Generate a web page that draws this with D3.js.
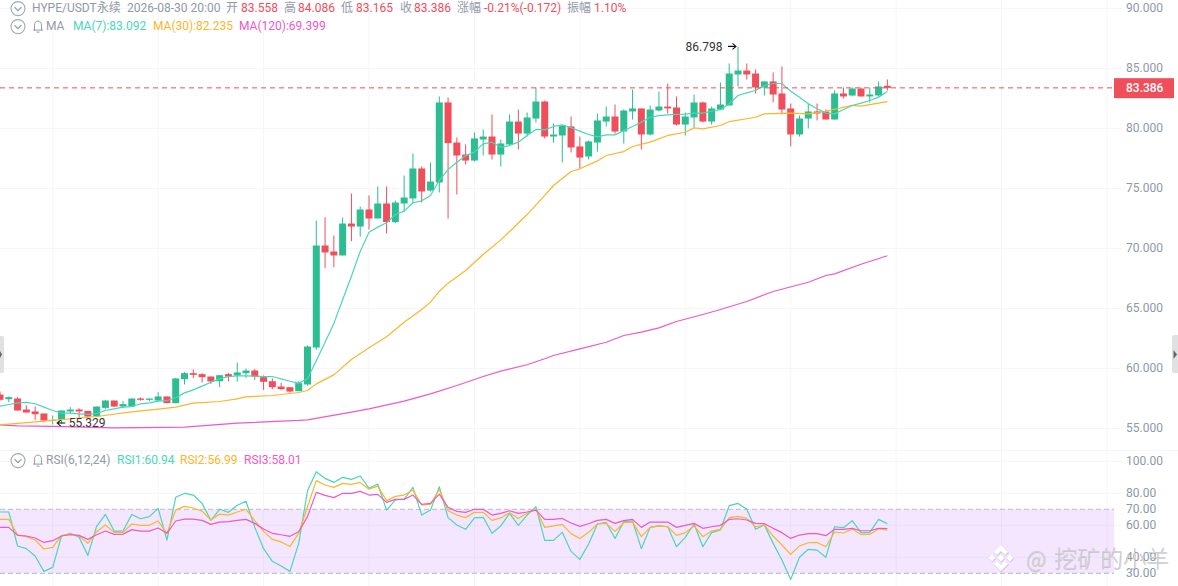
<!DOCTYPE html>
<html lang="zh">
<head>
<meta charset="utf-8">
<title>HYPE/USDT</title>
<script src="https://cdn.jsdelivr.net/npm/d3@7/dist/d3.min.js"></script>
<style>
html,body{margin:0;padding:0;background:#fff;overflow:hidden}
svg{display:block}
text{font-family:Roboto,"Noto Sans CJK SC",sans-serif;font-size:12px}
</style>
</head>
<body>
<svg id="chart" width="1178" height="586"></svg>
<script>
const opens = [57.83,57.44,57.5,56.58,56.42,56.25,55.67,55.72,56.42,56.58,56.47,56.0,56.72,57.33,56.83,56.83,57.5,57.39,57.33,57.67,57.11,59.11,59.61,59.53,59.33,58.94,59.53,59.42,59.61,59.83,59.28,58.94,58.5,58.44,58.11,58.67,61.75,70.25,69.75,69.42,72.08,71.83,73.25,72.5,73.75,72.2,73.75,74.17,76.67,74.83,75.5,82.17,78.83,77.83,77.33,79.08,79.33,77.83,78.67,80.58,79.58,80.83,82.25,79.33,79.42,80.17,78.5,77.67,78.83,80.58,81.0,79.75,81.42,81.67,79.5,81.5,81.83,81.75,80.33,80.92,82.17,80.58,81.58,81.92,84.5,84.83,84.58,83.42,83.92,82.92,81.67,79.5,80.83,81.42,81.42,80.75,82.92,82.75,83.33,82.67,82.75,83.558];
const closes = [57.39,57.61,56.5,56.33,56.19,55.67,55.72,56.5,56.58,56.42,56.0,56.83,57.33,56.83,57.03,57.5,57.39,57.5,57.67,57.11,59.17,59.61,59.47,59.28,58.92,59.44,59.33,59.67,59.83,59.33,58.89,58.44,58.28,58.08,58.78,61.83,70.25,69.67,69.42,72.08,71.83,73.25,72.5,73.75,72.2,73.83,74.25,76.67,74.75,75.58,82.17,78.78,77.75,77.33,79.17,79.33,77.83,78.75,80.58,79.58,80.92,82.25,79.33,79.5,80.25,78.42,77.58,78.92,80.67,81.0,79.75,81.5,81.67,79.5,81.58,81.83,81.67,80.33,81.0,82.17,80.58,81.67,82.0,84.58,84.83,84.5,83.42,83.92,82.83,81.58,79.5,80.83,81.42,81.25,80.75,82.92,82.67,83.33,82.67,82.83,83.5,83.386];
const highs = [58.08,57.67,57.61,56.94,56.83,56.25,56.08,56.5,56.78,56.69,56.47,56.83,57.39,57.33,57.28,57.5,57.58,57.5,58.03,57.67,59.22,59.69,59.92,59.61,59.33,59.44,59.64,60.5,60.0,59.97,59.42,59.17,58.81,58.44,58.94,61.92,72.33,72.61,71.08,72.58,74.58,73.5,74.42,75.17,75.17,74.0,76.08,77.92,76.83,77.17,82.67,82.58,79.25,78.67,79.67,79.92,81.17,79.08,81.17,81.58,81.33,83.42,82.33,80.42,80.25,81.0,79.33,79.0,81.25,81.83,82.0,81.58,83.25,81.67,81.92,83.08,83.75,82.67,81.33,82.83,82.25,81.83,83.83,85.42,86.798,85.42,84.92,83.92,84.67,85.17,82.08,81.08,82.08,82.08,81.58,83.17,83.42,83.42,83.42,83.42,83.92,84.086];
const lows = [57.31,57.19,56.5,56.33,55.72,55.53,55.329,55.39,56.22,55.89,55.94,56.0,56.64,56.78,56.67,56.83,57.31,57.28,57.28,57.11,57.11,58.67,59.19,58.83,58.72,58.44,58.94,58.89,59.22,59.06,58.22,58.28,58.19,58.0,58.11,58.58,61.56,68.36,68.44,69.42,70.61,71.0,71.58,72.5,71.25,72.11,73.08,73.75,73.83,74.75,74.67,72.5,74.5,77.0,77.25,77.75,77.42,76.83,78.58,78.25,79.33,80.5,79.17,78.83,77.17,78.0,76.67,77.42,78.08,80.17,79.58,78.75,80.75,78.25,79.42,81.42,81.25,80.25,79.42,80.08,80.5,80.33,81.58,81.92,83.5,84.08,82.92,82.75,82.17,81.17,78.5,79.33,80.0,80.67,80.75,80.75,82.5,82.67,82.67,82.17,82.67,83.165];

const ma7 = [56.86,57,57.14,57.17,57.06,56.78,56.5,56.28,56.28,56.22,56.17,56.25,56.5,56.64,56.78,56.83,57.06,57.14,57.28,57.33,57.56,57.97,58.22,58.53,58.86,59.14,59.33,59.39,59.39,59.36,59.33,59.33,59.14,58.94,58.78,59.14,60.65,62.19,63.76,65.73,67.69,69.76,71.36,71.78,72.14,72.83,73.11,73.81,73.97,74.42,75.67,76.58,77.19,77.72,78.03,78.72,78.86,78.44,78.58,78.86,79.42,79.92,79.89,80.17,80.31,80.06,79.78,79.5,79.3,79.47,79.47,79.83,80.17,80.53,80.94,81.08,81.14,81.17,81.19,81.28,81.28,81.44,81.56,82.06,82.75,82.97,83.17,83.58,83.75,83.75,83.11,82.61,82.06,81.64,81.28,81.22,81.58,81.92,82.11,82.33,82.61,83.092];
const ma30Index = [0,6,11,15,18,20,22,25,27,28,31,34,35,36,38,40,42,44,46,48,49,50,51,53,55,57,58,60,62,63,65,66,68,69,71,72,74,76,78,79,80,82,83,86,87,90,92,94,97,98,100,101];
const ma30Values = [55.3,55.67,56,56.39,56.61,56.78,57.11,57.25,57.47,57.64,57.75,58,58.17,58.72,59.47,60.75,61.72,62.64,63.86,64.92,65.53,66.42,67.11,68.17,69.5,70.72,71.42,72.83,74.42,75.25,76.42,76.64,77.3,77.75,78.08,78.5,78.86,79.42,79.69,80.05,79.97,80.25,80.58,80.94,81.22,81.28,81.22,81.44,81.92,81.86,82.11,82.235];
const ma120Index = [0,2,6,13,21,27,34,35,40,42,46,49,52,55,57,60,62,63,66,69,71,73,75,77,80,82,85,88,92,94,95,98,101];
const ma120Values = [55.31,55.22,55.17,55.06,55.11,55.44,55.67,55.72,56.36,56.64,57.28,57.89,58.58,59.33,59.78,60.31,60.81,61.08,61.64,62.19,62.75,63.03,63.39,63.92,64.5,64.92,65.58,66.42,67.19,67.75,67.89,68.69,69.399];

const rsi1 = [68.3,68.3,47.05,45.4,40.8,31.2,33.7,53.3,55.0,52.5,41.2,59.3,66.8,56.4,56.4,66.8,64.1,65.4,70.6,50.8,77.5,80.0,78.9,73.7,63.1,70.0,68.1,72.5,75.0,58.7,45.4,37.5,34.6,31.2,48.7,81.6,93.5,89.3,86.8,90.0,88.7,90.8,83.1,85.8,69.5,75.8,76.4,83.7,66.4,69.5,84.1,64.8,60.2,57.5,64.6,65.0,55.0,59.6,67.5,60.0,66.4,71.6,50.6,50.6,55.6,43.7,38.7,48.3,60.8,61.8,51.8,62.3,62.7,45.4,58.7,59.6,59.1,46.6,52.5,60.8,46.6,55.4,57.1,72.3,73.7,70.0,57.5,60.2,48.7,38.3,26.2,40.0,45.0,44.5,40.0,59.1,58.5,62.9,55.4,55.6,63.7,60.94];
const rsi2 = [63.7,63.7,54.1,52.9,50.8,45.2,46.2,53.5,54.6,53.3,48.7,56.0,60.2,55.6,55.6,60.8,60.0,60.0,62.7,55.0,69.5,71.8,70.8,68.9,63.3,67.0,66.4,68.3,70.0,62.9,56.2,51.2,49.6,46.8,55.0,71.6,87.9,85.2,83.7,86.2,85.6,86.8,82.5,84.5,75.4,78.1,78.9,82.0,72.7,73.1,82.5,69.1,66.4,64.8,68.1,68.1,63.1,64.6,67.9,64.3,67.5,70.0,58.7,59.6,60.6,54.8,51.8,55.6,60.8,61.2,56.2,61.6,62.0,52.9,58.7,59.6,59.1,53.7,55.4,59.6,52.9,56.4,57.5,64.8,65.6,64.3,59.1,60.2,53.3,47.7,41.8,47.1,49.1,49.3,46.6,55.8,55.2,57.7,54.3,54.3,57.9,56.99];
const rsi3 = [58.7,58.7,53.7,53.3,52.05,49.3,50.4,53.3,54.1,53.7,51.2,54.1,56.4,54.3,54.5,57.3,56.4,56.4,58.3,55.0,62.7,63.9,63.9,63.1,60.6,62.0,62.3,63.1,63.7,61.2,57.7,55.0,54.1,53.1,56.0,65.4,80.6,78.7,77.3,80.0,80.0,81.2,78.9,79.3,74.3,76.2,76.2,78.9,73.1,73.7,79.5,71.2,68.7,68.1,70.0,70.0,66.4,67.5,69.1,67.5,68.3,69.5,63.7,63.7,64.3,61.4,59.3,61.0,63.1,63.7,61.2,62.9,63.7,58.7,62.0,62.0,62.0,58.7,60.0,61.2,58.1,59.1,60.0,63.7,64.1,63.3,61.2,61.0,58.1,55.4,51.8,53.9,54.8,54.8,53.5,57.5,57.5,58.1,56.6,56.6,58.1,58.01];

const priceTicks = [90,85,80,75,70,65,60,55];
const rsiTicks = [100,80,70,60,40,30];
const rsiGridTicks = [100,80,60,40];
const rsiBand = [70,30];
const gridIndex = [6,18,30,42,54,66,78,90,102,114,126];
const lastPrice = 83.386;
const highLabel = {i:84, v:86.798};
const lowLabel = {i:6, v:55.329};

const header = [
  ["HYPE/USDT永续",32,"#929aa8"],["2026-08-30 20:00",127,"#929aa8"],
  ["开",226,"#929aa8"],["83.558",241,"#ef4f5d"],["高",284,"#929aa8"],["84.086",298,"#ef4f5d"],
  ["低",341,"#929aa8"],["83.165",356,"#ef4f5d"],["收",400,"#929aa8"],["83.386",414,"#ef4f5d"],
  ["涨幅",457,"#929aa8"],["-0.21%(-0.172)",484,"#ef4f5d"],["振幅",567,"#929aa8"],["1.10%",594,"#ef4f5d"]];
const maLegend = [["MA",46,"#929aa8"],["MA(7):83.092",73,"#4bd6b8"],["MA(30):82.235",153,"#fbb62b"],["MA(120):69.399",239,"#ee5ac4"]];
const rsiLegend = [["RSI(6,12,24)",46,"#929aa8"],["RSI1:60.94",117,"#4bd6b8"],["RSI2:56.99",180,"#fbb62b"],["RSI3:58.01",244,"#ee5ac4"]];

[opens,closes,highs,lows,ma7,rsi1,rsi2,rsi3].forEach(a=>{ if(a.length!==102) throw new Error("length "+a.length); });

const GREEN="#2cbd92", RED="#f04e5b", CYAN="#4bd6b8", ORANGE="#fbb62b", PINK="#ee5ac4", AXIS="#8f98a8", GRID="#f5f6f8";
const svg = d3.select("#chart");
const x = d3.scaleLinear().domain([0,126]).range([0,1107]);
const y = d3.scaleLinear().domain([55,90]).range([428.5,8.5]);
const r = d3.scaleLinear().domain([30,100]).range([573.3,461.3]);
const plotRight = 1114;
const idx = d3.range(opens.length);

// grid
svg.append("g").selectAll("line").data(gridIndex).join("line")
  .attr("x1",d=>x(d)).attr("x2",d=>x(d)).attr("y1",0).attr("y2",586).attr("stroke",GRID);
svg.append("g").selectAll("line").data(priceTicks).join("line")
  .attr("x1",0).attr("x2",1122).attr("y1",d=>y(d)).attr("y2",d=>y(d)).attr("stroke",GRID);
svg.append("g").selectAll("line").data(rsiGridTicks).join("line")
  .attr("x1",0).attr("x2",1122).attr("y1",d=>r(d)).attr("y2",d=>r(d)).attr("stroke",GRID);
svg.append("line").attr("x1",0).attr("x2",1178).attr("y1",450.5).attr("y2",450.5).attr("stroke",GRID);

// RSI band
svg.append("rect").attr("x",0).attr("width",plotRight).attr("y",r(rsiBand[0])).attr("height",r(rsiBand[1])-r(rsiBand[0]))
  .attr("fill","rgb(195,130,250)").attr("opacity",.2);
svg.append("g").selectAll("line").data(rsiBand).join("line")
  .attr("x1",0).attr("x2",plotRight).attr("y1",d=>r(d)).attr("y2",d=>r(d))
  .attr("stroke","#b9b9c0").attr("stroke-dasharray","5,3");

// candles
const col = i => closes[i]>=opens[i] ? GREEN : RED;
const candles = svg.append("g");
candles.selectAll("line").data(idx).join("line")
  .attr("x1",i=>x(i)).attr("x2",i=>x(i)).attr("y1",i=>y(highs[i])).attr("y2",i=>y(lows[i]))
  .attr("stroke",col).attr("stroke-width",1);
candles.selectAll("rect").data(idx).join("rect")
  .attr("x",i=>x(i)-3.5).attr("width",7)
  .attr("y",i=>y(Math.max(opens[i],closes[i])))
  .attr("height",i=>Math.max(1,Math.abs(y(opens[i])-y(closes[i]))))
  .attr("fill",col);

// lines
const priceLine = d3.line().x(d=>x(d[0])).y(d=>y(d[1]));
const rsiLine = d3.line().x(d=>x(d[0])).y(d=>r(d[1]));
function addLine(gen,pts,c){ svg.append("path").attr("d",gen(pts)).attr("fill","none").attr("stroke",c).attr("stroke-width",1.2).attr("stroke-linejoin","round"); }
addLine(priceLine, d3.zip(ma120Index,ma120Values), PINK);
addLine(priceLine, d3.zip(ma30Index,ma30Values), ORANGE);
addLine(priceLine, d3.zip(idx,ma7), CYAN);
addLine(rsiLine, d3.zip(idx,rsi1), CYAN);
addLine(rsiLine, d3.zip(idx,rsi2), ORANGE);
addLine(rsiLine, d3.zip(idx,rsi3), PINK);

// last price line
svg.append("line").attr("x1",0).attr("x2",plotRight).attr("y1",y(lastPrice)).attr("y2",y(lastPrice))
  .attr("stroke",RED).attr("stroke-dasharray","5,4");

// high / low labels
function arrow(x1,x2,yy,dir){
  svg.append("path").attr("d",`M${x1},${yy}H${x2}M${dir>0?x2-3.5:x2+3.5},${yy-3}L${x2},${yy}L${dir>0?x2-3.5:x2+3.5},${yy+3}`)
    .attr("fill","none").attr("stroke","#111").attr("stroke-width",1.1);
}
const hx=x(highLabel.i), hy=y(highLabel.v)-0.5;
arrow(hx-10,hx-2,hy,1);
svg.append("text").attr("x",hx-15.5).attr("y",hy).attr("dy",".35em").attr("text-anchor","end").attr("fill","#333").text(d3.format(".3f")(highLabel.v));
const lx=x(lowLabel.i), ly=y(lowLabel.v)-1.5;
arrow(lx+12.5,lx+4.5,ly,-1);
svg.append("text").attr("x",lx+16).attr("y",ly).attr("dy",".35em").attr("fill","#333").text(d3.format(".3f")(lowLabel.v));

// axes
const pa = svg.append("g").attr("transform","translate(1126,-0.4)")
  .call(d3.axisRight(y).tickValues(priceTicks).tickFormat(d3.format(".3f")).tickSize(0).tickPadding(0));
const ra = svg.append("g").attr("transform","translate(1126,-0.6)")
  .call(d3.axisRight(r).tickValues(rsiTicks).tickFormat(d3.format(".2f")).tickSize(0).tickPadding(0));
[pa,ra].forEach(g=>{ g.select(".domain").remove(); g.selectAll("text").attr("fill",AXIS).style("font-family","Roboto,sans-serif").style("font-size","12px"); });

// price tag
svg.append("rect").attr("x",1114).attr("y",y(lastPrice)-9.7).attr("width",60).attr("height",20).attr("fill",RED);
svg.append("text").attr("x",1126).attr("y",y(lastPrice)+0.3).attr("dy",".35em").attr("fill","#fff").attr("font-weight",500).text(d3.format(".3f")(lastPrice));

// legends
function legendRow(items,yy,bell){
  svg.append("g").selectAll("text").data(items).join("text")
    .attr("x",d=>d[1]).attr("y",yy-0.5).attr("dy",".35em").attr("fill",d=>d[2]).text(d=>d[0]);
  const cy=yy+0.6;
  svg.append("circle").attr("cx",18).attr("cy",cy).attr("r",7).attr("fill","none").attr("stroke","#a3a9b5").attr("stroke-width",1.1);
  svg.append("path").attr("d",`M14.5,${cy-1.5}L18,${cy+2}L21.5,${cy-1.5}`).attr("fill","none").attr("stroke","#8f97a5").attr("stroke-width",1.1);
  if(bell) svg.append("path")
    .attr("d",`M33,${cy+3.5}H43M34.5,${cy+3.5}V${cy-1}a3.5,4.5 0 0 1 7,0V${cy+3.5}M36.5,${cy+5.5}h3`)
    .attr("fill","none").attr("stroke","#929aa8");
}
legendRow(header,8,false);
legendRow(maLegend,26,true);
legendRow(rsiLegend,460,true);

// side handles
svg.append("rect").attr("x",-4).attr("y",336).attr("width",8).attr("height",37).attr("rx",2).attr("fill","#dfe1e5");
svg.append("path").attr("d","M0,351L2,354.5L0,358Z").attr("fill","#666");
svg.append("rect").attr("x",1172).attr("y",335).attr("width",10).attr("height",38).attr("rx",2).attr("fill","#dfe1e5");
svg.append("path").attr("d","M1173.5,350L1177,354.5L1173.5,359Z").attr("fill","#666");

// watermark
const defs = svg.append("defs");
const f = defs.append("filter").attr("id","ws").attr("x","-20%").attr("y","-20%").attr("width","140%").attr("height","140%");
f.append("feDropShadow").attr("dx",0.4).attr("dy",0.6).attr("stdDeviation",0.6).attr("flood-color","#888").attr("flood-opacity",.6);
const wm = svg.append("g").attr("filter","url(#ws)");
wm.append("path").attr("transform","translate(1001,558)").attr("fill","#fff")
  .attr("d","M0,-13L7,-6L4,-3L0,-7L-4,-3L-7,-6ZM-9,-3.5L-5.5,0L-9,3.5L-12.5,0ZM9,-3.5L12.5,0L9,3.5L5.5,0ZM0,-3.5L3.5,0L0,3.5L-3.5,0ZM-7,6L-4,3L0,7L4,3L7,6L0,13Z");
wm.append("text").attr("x",1026).attr("y",567).attr("fill","#d2d2d5").style("font-size","22px").style("font-family","'Noto Sans CJK SC'").style("font-weight",300).text("@");
wm.append("text").attr("x",1054).attr("y",567).attr("fill","#d2d2d5").style("font-size","23px").style("font-family","'Noto Sans CJK SC'").style("font-weight",300).text("挖矿的小羊");
</script>
</body>
</html>
